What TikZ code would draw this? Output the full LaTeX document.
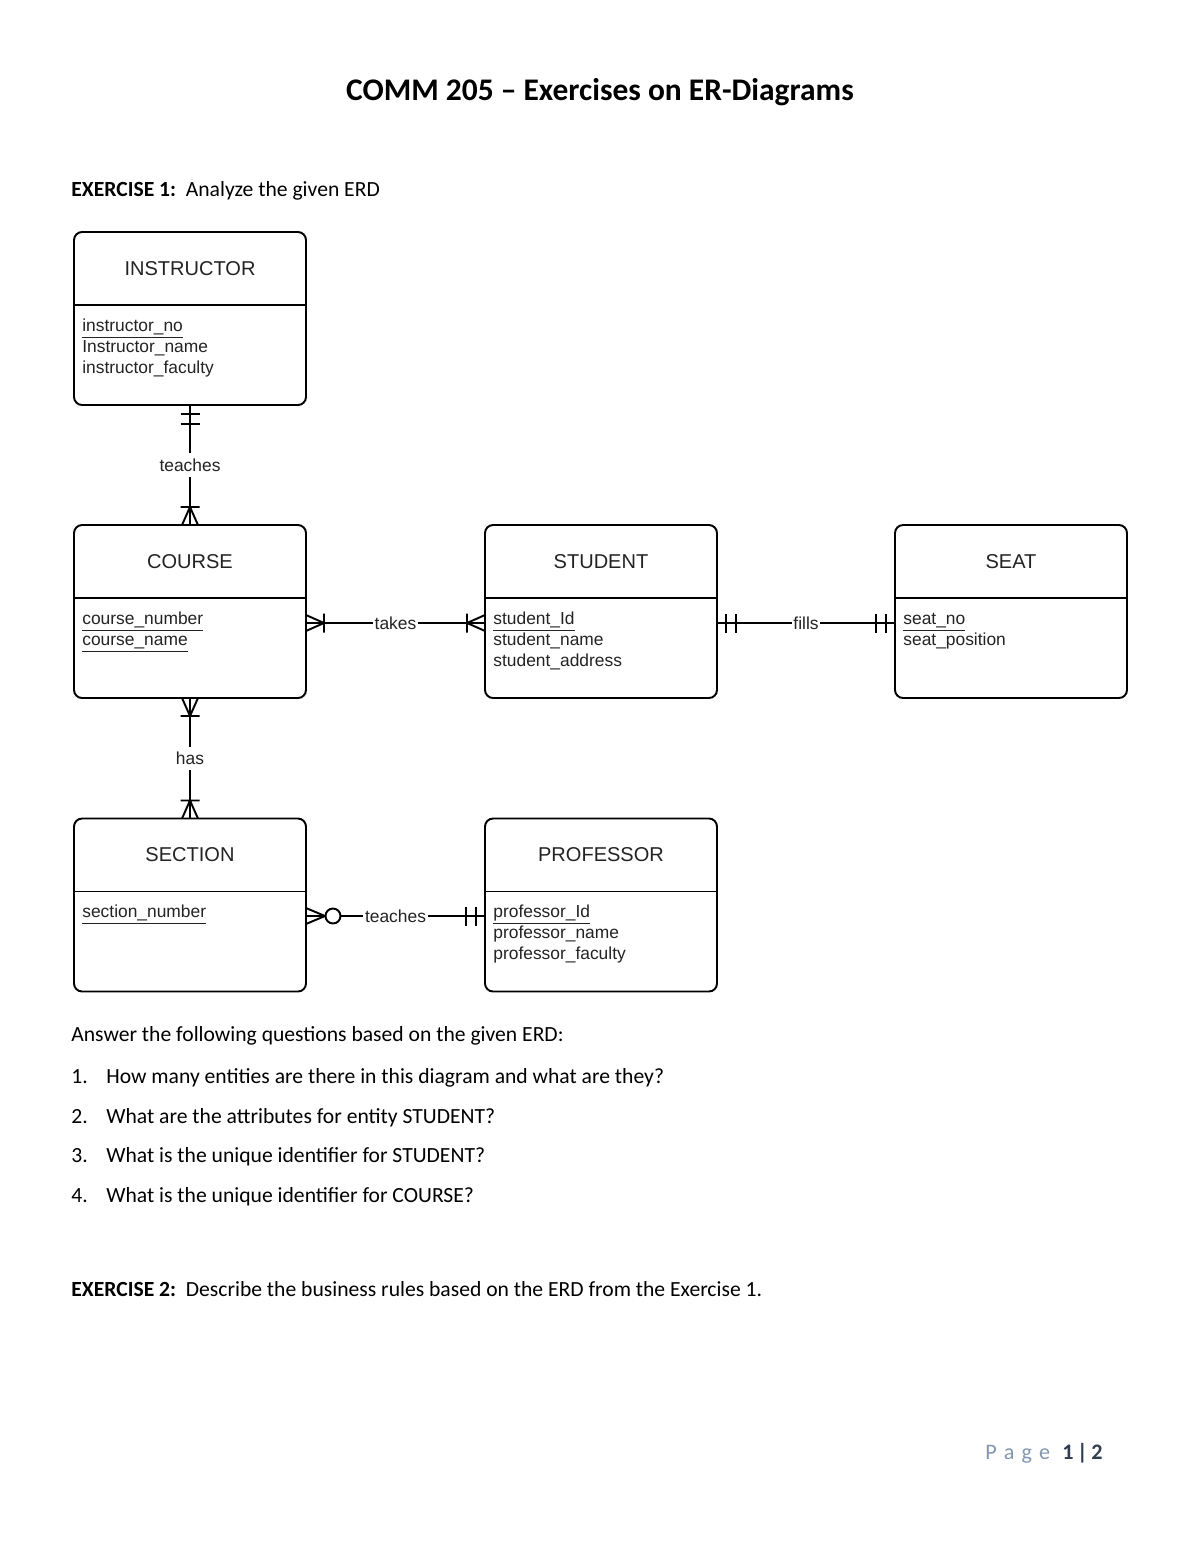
\documentclass[tikz,border=0pt]{standalone}
\usepackage{fontspec}
\setmainfont{Carlito}
\newfontfamily\erdfont{Liberation Sans}
\usetikzlibrary{calc}
\definecolor{erdtext}{RGB}{35,35,35}
\definecolor{pagegray}{RGB}{132,151,176}
\definecolor{pagenavy}{RGB}{50,62,79}

% cardinality marks, drawn with the x axis pointing away from the entity
\tikzset{
    onlyone/.pic={\draw (9,-9.5) -- (9,9.5) (19,-9.5) -- (19,9.5);},
    onemany/.pic={\draw (0,8) -- (18,0) -- (0,-8) (18,-9.5) -- (18,9.5);},
    zeromany/.pic={\draw (0,8) -- (19,0) -- (0,-8); \draw[fill=white] (27,0) circle[radius=0.15cm];}
}

\begin{document}
\begin{tikzpicture}[
    x=0.02cm, y=0.02cm,
    every node/.style={inner sep=0pt},
    heading/.style={font=\fontsize{17.9}{21}\selectfont\bfseries},
    body/.style={font=\fontsize{12.3}{14}\selectfont},
    entity/.style={draw, line width=1.1pt, rounded corners=0.16cm, outer sep=0pt, minimum width=4.64cm, minimum height=3.46cm},
    divider/.style={line width=1.1pt},
    etitle/.style={font=\erdfont\fontsize{11.4}{13}\selectfont, text=erdtext},
    attrs/.style={font=\erdfont\fontsize{9.9}{11.9}\selectfont, text=erdtext, align=left},
    rel/.style={line width=1.1pt},
    rlabel/.style={fill=white, inner xsep=1pt, inner ysep=3pt, font=\erdfont\fontsize{9.9}{12}\selectfont, text=erdtext}
]
\useasboundingbox[fill=white] (0,0) rectangle (1200,-1553);

% Title
\node[heading, anchor=base] (title) at (600,-100) {COMM 205 -- Exercises on ER-Diagrams};
\node[body, anchor=base west] (ex1) at (71,-196) {\textbf{EXERCISE 1:}\ \ Analyze the given ERD};

% Entities (attribute nodes sit on the baseline of their last line)
\node[entity] (inst) at (190,-318.5) {};
\draw[divider] ($(inst.north west)+(0,-73)$) -- ($(inst.north east)+(0,-73)$);
\node[etitle, anchor=base] at ($(inst.north)+(0,-43)$) {INSTRUCTOR};
\node[attrs, anchor=base west] at ($(inst.north west)+(8,-141)$) {\underline{instructor\_no}\\Instructor\_name\\instructor\_faculty};

\node[entity] (course) at (190,-611.5) {};
\draw[divider] ($(course.north west)+(0,-73)$) -- ($(course.north east)+(0,-73)$);
\node[etitle, anchor=base] at ($(course.north)+(0,-43)$) {COURSE};
\node[attrs, anchor=base west] at ($(course.north west)+(8,-120)$) {\underline{course\_number}\\\underline{course\_name}};

\node[entity] (student) at (601,-611.5) {};
\draw[divider] ($(student.north west)+(0,-73)$) -- ($(student.north east)+(0,-73)$);
\node[etitle, anchor=base] at ($(student.north)+(0,-43)$) {STUDENT};
\node[attrs, anchor=base west] at ($(student.north west)+(8,-141)$) {\underline{student\_Id}\\student\_name\\student\_address};

\node[entity] (seat) at (1011,-611.5) {};
\draw[divider] ($(seat.north west)+(0,-73)$) -- ($(seat.north east)+(0,-73)$);
\node[etitle, anchor=base] at ($(seat.north)+(0,-43)$) {SEAT};
\node[attrs, anchor=base west] at ($(seat.north west)+(8,-120)$) {\underline{seat\_no}\\seat\_position};

\node[entity] (section) at (190,-905) {};
\draw[divider] ($(section.north west)+(0,-73)$) -- ($(section.north east)+(0,-73)$);
\node[etitle, anchor=base] at ($(section.north)+(0,-43)$) {SECTION};
\node[attrs, anchor=base west] at ($(section.north west)+(8,-99)$) {\underline{section\_number}};

\node[entity] (prof) at (601,-905) {};
\draw[divider] ($(prof.north west)+(0,-73)$) -- ($(prof.north east)+(0,-73)$);
\node[etitle, anchor=base] at ($(prof.north)+(0,-43)$) {PROFESSOR};
\node[attrs, anchor=base west] at ($(prof.north west)+(8,-141)$) {\underline{professor\_Id}\\professor\_name\\professor\_faculty};

% Relationships
\draw[rel] (inst) -- node[rlabel] {teaches} (course);
\pic[rel, rotate=-90] at (inst.south) {onlyone};
\pic[rel, rotate=90] at (course.north) {onemany};

\draw[rel] ([yshift=-0.23cm]course.east) -- node[rlabel] {takes} ([yshift=-0.23cm]student.west);
\pic[rel] at ([yshift=-0.23cm]course.east) {onemany};
\pic[rel, rotate=180] at ([yshift=-0.23cm]student.west) {onemany};

\draw[rel] ([yshift=-0.23cm]student.east) -- node[rlabel] {fills} ([yshift=-0.23cm]seat.west);
\pic[rel] at ([yshift=-0.23cm]student.east) {onlyone};
\pic[rel, rotate=180] at ([yshift=-0.23cm]seat.west) {onlyone};

\draw[rel] (course) -- node[rlabel] {has} (section);
\pic[rel, rotate=-90] at (course.south) {onemany};
\pic[rel, rotate=90] at (section.north) {onemany};

\draw[rel] ([yshift=-0.22cm]section.east) -- node[rlabel] {teaches} ([yshift=-0.22cm]prof.west);
\pic[rel] at ([yshift=-0.22cm]section.east) {zeromany};
\pic[rel, rotate=180] at ([yshift=-0.22cm]prof.west) {onlyone};

% Questions
\node[body, anchor=base west] (ask) at (71,-1041) {Answer the following questions based on the given ERD:};
\node[body, anchor=base west] (n1) at (71,-1083) {1.};
\node[body, anchor=base west] (q1) at (106,-1083) {How many entities are there in this diagram and what are they?};
\node[body, anchor=base west] (n2) at (71,-1123) {2.};
\node[body, anchor=base west] (q2) at (106,-1123) {What are the attributes for entity STUDENT?};
\node[body, anchor=base west] (n3) at (71,-1162) {3.};
\node[body, anchor=base west] (q3) at (106,-1162) {What is the unique identifier for STUDENT?};
\node[body, anchor=base west] (n4) at (71,-1202) {4.};
\node[body, anchor=base west] (q4) at (106,-1202) {What is the unique identifier for COURSE?};

\node[body, anchor=base west] (ex2) at (71,-1296) {\textbf{EXERCISE 2:}\ \ Describe the business rules based on the ERD from the Exercise 1.};

% Footer
\node[font=\fontsize{12.6}{15}\selectfont, anchor=base east] (pageno) at (1103,-1459)
    {\textcolor{pagegray}{P\hspace{4pt}a\hspace{4pt}g\hspace{4pt}e}\hspace{7pt}\textcolor{pagenavy}{\textbf{1\,|\,2}}};

\end{tikzpicture}
\end{document}
